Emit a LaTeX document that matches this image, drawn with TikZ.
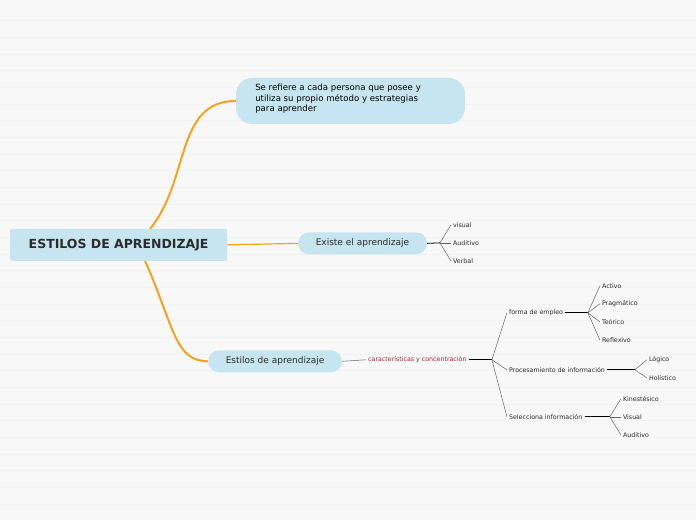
\documentclass[tikz,border=0pt]{standalone}
\usepackage{fontspec}
\setmainfont{DejaVu Sans}
\definecolor{bg}{HTML}{F8F8F8}
\definecolor{nodeblue}{HTML}{C6E5F0}
\definecolor{orng}{HTML}{F7A21B}
\definecolor{txt}{HTML}{2B2B2B}
\definecolor{redt}{HTML}{A52A2A}
\definecolor{ln}{HTML}{666666}
\begin{document}
\begin{tikzpicture}[x=1pt,y=-1pt,
  topic/.style={fill=nodeblue,rounded corners=11pt,font=\fontsize{9}{11}\selectfont,text=txt,inner sep=0pt},
  leaf/.style={anchor=west,font=\fontsize{6.3}{8}\selectfont,text=txt,inner sep=2pt},
  ol/.style={orng,line width=1.2pt},
  gl/.style={ln,line width=0.5pt},
  bar/.style={black,line width=0.8pt}]
\fill[bg] (0,0) rectangle (696,520);
\foreach \y in {20,37,54,70,87,104,120,137,154,170,187,204,220,237,254,270,287,304,320,337,354,370,387,404,420,437,454,470,487,504}
  \draw[white!90!gray,line width=0.4pt] (0,\y) -- (696,\y);
% central
\node[fill=nodeblue,rounded corners=2pt,minimum width=217pt,minimum height=32pt,font=\bfseries\fontsize{12.5}{14}\selectfont,text=txt] (root) at (118.5,245) {ESTILOS DE APRENDIZAJE};
\node[topic,minimum width=229pt,minimum height=46pt,rounded corners=16pt] (t1) at (350.5,101) {};
\node[anchor=north west,align=left,font=\fontsize{8.6}{10.5}\selectfont,text=black,inner sep=0pt] (t1t) at (255,84) {Se refiere a cada persona que posee y\\utiliza su propio método y estrategias\\para aprender};
\node[topic,minimum width=129pt,minimum height=22pt] (t2) at (362.5,243.5) {Existe el aprendizaje};
\node[topic,minimum width=134pt,minimum height=22pt] (t3) at (275,361.5) {Estilos de aprendizaje};
% orange connectors
\draw[ol,line width=2pt] (150,229) .. controls (190,180) and (175,101) .. (t1.west);
\draw[ol] (root.east) -- (t2.west);
\draw[ol,line width=2pt] (145,261) .. controls (175,330) and (175,361) .. (t3.west);
% middle leaves
\coordinate (m0) at (440,243);
\draw[bar] (t2.east) -- (m0);
\node[leaf] (v1) at (451,225) {visual};
\node[leaf] (v2) at (451,243) {Auditivo};
\node[leaf] (v3) at (451,261) {Verbal};
\foreach \n in {v1,v2,v3} \draw[gl] (m0) -- (\n.west);
% bottom
\node[leaf,text=redt] (car) at (366,360) {características y concentración};
\draw[gl] (t3.east) -- (car.west);
\coordinate (c0) at (492,360);
\draw[bar] (car.east) -- (c0);
\node[leaf] (f) at (507,313) {forma de empleo};
\node[leaf] (p) at (507,370) {Procesamiento de información};
\node[leaf] (s) at (507,417) {Selecciona información};
\foreach \n in {f,p,s} \draw[gl] (c0) -- (\n.west);
\coordinate (f0) at (588,313);
\draw[bar] (f.east) -- (f0);
\node[leaf] (a1) at (600,286) {Activo};
\node[leaf] (a2) at (600,304) {Pragmático};
\node[leaf] (a3) at (600,322) {Teórico};
\node[leaf] (a4) at (600,340) {Reflexivo};
\foreach \n in {a1,a2,a3,a4} \draw[gl] (f0) -- (\n.west);
\coordinate (p0) at (635,370);
\draw[bar] (p.east) -- (p0);
\node[leaf] (b1) at (647,360) {Lógico};
\node[leaf] (b2) at (647,378) {Holístico};
\foreach \n in {b1,b2} \draw[gl] (p0) -- (\n.west);
\coordinate (s0) at (610,417);
\draw[bar] (s.east) -- (s0);
\node[leaf] (k1) at (621,399) {Kinestésico};
\node[leaf] (k2) at (621,417) {Visual};
\node[leaf] (k3) at (621,435) {Auditivo};
\foreach \n in {k1,k2,k3} \draw[gl] (s0) -- (\n.west);
\end{tikzpicture}
\end{document}
